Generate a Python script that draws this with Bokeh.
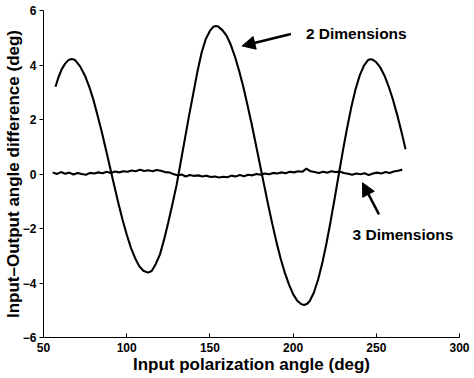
from bokeh.plotting import figure
from bokeh.models import Range1d, FixedTicker, Arrow, NormalHead, Label
from bokeh.embed import file_html
from bokeh.resources import INLINE

# 2-dimension curve (input angle, deg) -> (angle difference, deg)
x2 = [57.2, 59, 61, 63, 65, 67, 69, 72, 75, 77.5, 80, 82.5, 85, 87.5, 90, 92.5, 95, 97.5,
      100, 102.5, 105, 107.5, 110, 112.8, 115, 117.5, 120, 122.5, 125, 127.5, 130, 132.5,
      135, 137.5, 140, 142.5, 145, 147.5, 150, 152, 153.7, 155, 157.5, 160, 162.5, 165,
      167.5, 170, 172.5, 175, 177.5, 180, 182.5, 185, 187.5, 190, 192.5, 195, 197.5, 200,
      202.5, 205, 206.7, 208.5, 210, 212.5, 215, 217.5, 220, 222.5, 225, 227.5, 230, 232.5,
      235, 237.5, 240, 242.5, 245, 246.6, 248, 250, 252.5, 255, 257.5, 260, 262.5, 265, 267.6]
y2 = [3.2, 3.55, 3.85, 4.05, 4.18, 4.22, 4.18, 3.95, 3.6, 3.2, 2.72, 2.15, 1.55, 0.9, 0.24, -0.42,
      -1.07, -1.68, -2.22, -2.7, -3.08, -3.38, -3.55, -3.62, -3.56, -3.3, -2.95, -2.4, -1.77,
      -1.1, -0.4, 0.45, 1.3, 2.15, 2.95, 3.75, 4.45, 4.95, 5.25, 5.4, 5.43, 5.41, 5.28, 5.08,
      4.75, 4.32, 3.8, 3.22, 2.55, 1.86, 1.12, 0.37, -0.38, -1.13, -1.83, -2.5, -3.1, -3.62,
      -4.05, -4.41, -4.65, -4.78, -4.81, -4.76, -4.66, -4.35, -3.88, -3.28, -2.56, -1.75, -0.89,
      0.0, 0.88, 1.7, 2.46, 3.1, 3.61, 3.97, 4.18, 4.21, 4.19, 4.1, 3.9, 3.6, 3.2, 2.73, 2.18,
      1.58, 0.91]

# 3-dimension curve
x3 = [55.5, 58, 60.5, 63, 65.5, 68, 70.5, 73, 75.5, 78, 80.5, 83, 85.5, 88, 90.5, 93, 95.5, 98,
      100.5, 103, 105.5, 108, 110.5, 113, 115.5, 118, 120.5, 123, 125.5, 128, 130.5, 133, 135.5,
      138, 140.5, 143, 145.5, 148, 150.5, 153, 155.5, 158, 160.5, 163, 165.5, 168, 170.5, 173,
      175.5, 178, 180.5, 183, 185.5, 188, 190.5, 193, 195.5, 198, 200.5, 203, 205.5, 208, 210.5,
      213, 215.5, 218, 220.5, 223, 225.5, 228, 230.5, 233, 235.5, 238, 240.5, 243, 245.5, 248,
      250.5, 253, 255.5, 258, 260.5, 263, 265.6]
y3 = [0.06, 0.0, 0.07, 0.01, 0.05, -0.02, 0.04, 0.0, -0.03, 0.04, 0.02, 0.06, 0.03, 0.08, 0.04,
      0.09, 0.06, 0.1, 0.08, 0.13, 0.1, 0.16, 0.11, 0.14, 0.1, 0.15, 0.12, 0.07, 0.06, 0.0, -0.05,
      -0.02, -0.09, -0.04, -0.07, -0.05, -0.09, -0.06, -0.11, -0.09, -0.13, -0.1, -0.12, -0.06,
      -0.09, -0.04, -0.08, -0.03, -0.05, 0.0, -0.03, 0.02, -0.01, 0.04, 0.02, 0.06, 0.03, 0.08,
      0.06, 0.1, 0.08, 0.2, 0.1, 0.07, 0.04, 0.08, 0.05, 0.1, 0.07, 0.09, 0.04, 0.01, -0.03, 0.02,
      -0.01, 0.03, -0.04, 0.02, 0.05, 0.02, 0.07, 0.04, 0.09, 0.12, 0.16]

x_ticks = [50, 100, 150, 200, 250, 300]
y_ticks = [-6, -4, -2, 0, 2, 4, 6]

FONT = "Liberation Sans"

p = figure(width=474, height=378, output_backend="svg", toolbar_location=None,
           x_range=Range1d(50, 300), y_range=Range1d(-6, 6),
           min_border_left=42, min_border_right=15, min_border_top=10, min_border_bottom=41)
p.outline_line_color = None
p.xgrid.visible = False
p.ygrid.visible = False
p.background_fill_color = "white"
p.border_fill_color = "white"

p.line(x2, y2, line_color="black", line_width=2.1)
p.line(x3, y3, line_color="black", line_width=2.1)

for ax in (p.xaxis[0], p.yaxis[0]):
    ax.axis_line_color = "black"
    ax.axis_line_width = 1
    ax.minor_tick_line_color = None
    ax.major_tick_line_color = "black"
    ax.major_label_text_font = FONT
    ax.major_label_text_font_style = "bold"
    ax.major_label_text_font_size = "12px"
    ax.major_label_text_color = "black"
    ax.axis_label_text_font = FONT
    ax.axis_label_text_font_style = "bold"
    ax.axis_label_text_color = "black"
    ax.axis_label_text_font_size = "17px"

p.xaxis.ticker = FixedTicker(ticks=x_ticks)
p.yaxis.ticker = FixedTicker(ticks=y_ticks)
p.xaxis.major_tick_in = 4
p.xaxis.major_tick_out = 0
p.yaxis.major_tick_in = 0
p.yaxis.major_tick_out = 4
p.xaxis.major_label_standoff = 5
p.yaxis.major_label_standoff = 3
p.xaxis.axis_label = "Input polarization angle (deg)"
p.yaxis.axis_label = "Input\u2013Output angle difference (deg)"
p.xaxis.axis_label_standoff = 0
p.yaxis.axis_label_standoff = -3

# annotations
p.add_layout(Arrow(end=NormalHead(size=13, fill_color="black", line_color="black"),
                   x_start=198.7, y_start=5.14, x_end=169.3, y_end=4.70,
                   line_width=2.5, line_color="black"))
p.add_layout(Label(x=207.7, y=5.14, text="2 Dimensions", text_font=FONT,
                   text_font_style="bold", text_font_size="15.5px", text_baseline="middle",
                   text_color="black"))
p.add_layout(Arrow(end=NormalHead(size=13, fill_color="black", line_color="black"),
                   x_start=251.6, y_start=-1.48, x_end=241.7, y_end=-0.32,
                   line_width=2.5, line_color="black"))
p.add_layout(Label(x=235.7, y=-2.21, text="3 Dimensions", text_font=FONT,
                   text_font_style="bold", text_font_size="15.5px", text_baseline="middle",
                   text_color="black"))

open("out.html", "w").write(file_html(p, INLINE))
